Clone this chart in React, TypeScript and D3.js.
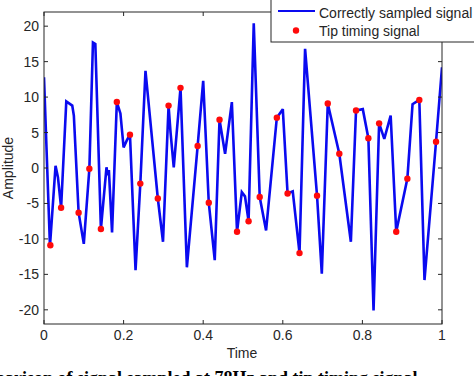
import React from "react";
import * as d3 from "d3";

const lineT = [0.0, 0.015, 0.029, 0.035, 0.043, 0.056, 0.071, 0.075, 0.087, 0.1, 0.114, 0.123, 0.129, 0.143, 0.157, 0.16, 0.163, 0.171, 0.183, 0.192, 0.2, 0.208, 0.216, 0.23, 0.242, 0.255, 0.286, 0.299, 0.313, 0.318, 0.326, 0.343, 0.359, 0.386, 0.4, 0.414, 0.429, 0.441, 0.455, 0.472, 0.485, 0.497, 0.505, 0.514, 0.527, 0.542, 0.558, 0.585, 0.6, 0.612, 0.625, 0.642, 0.656, 0.686, 0.698, 0.713, 0.742, 0.771, 0.784, 0.801, 0.815, 0.828, 0.842, 0.855, 0.871, 0.885, 0.913, 0.926, 0.943, 0.956, 0.985, 1.0];
const lineV = [12.8, -11.0, 0.3, -1.3, -5.6, 9.4, 8.8, 7.4, -6.3, -10.7, -0.1, 17.7, 17.5, -8.6, 0.1, -1.0, -0.3, -9.1, 9.3, 7.7, 2.9, 3.9, 4.7, -14.4, -2.2, 13.7, -4.3, -10.4, 8.8, 5.0, 0.1, 11.3, -14.0, 3.1, 12.3, -4.9, -13.0, 6.8, 2.0, 9.3, -9.0, -3.4, -4.0, -7.5, 20.4, -4.1, -8.8, 7.1, 8.3, -3.6, -3.3, -12.0, 16.8, -3.9, -14.9, 9.1, 2.0, -10.4, 8.1, 8.3, 4.2, -20.1, 6.3, 4.1, 7.4, -9.0, -1.5, 9.0, 9.6, -15.8, 3.7, 14.2];

const tipT = [0.016, 0.043, 0.087, 0.114, 0.143, 0.183, 0.216, 0.242, 0.286, 0.313, 0.343, 0.386, 0.414, 0.441, 0.485, 0.514, 0.542, 0.585, 0.612, 0.642, 0.686, 0.713, 0.742, 0.784, 0.815, 0.842, 0.885, 0.913, 0.943, 0.985];
const tipV = [-10.9, -5.6, -6.3, -0.1, -8.6, 9.3, 4.7, -2.2, -4.3, 8.8, 11.3, 3.1, -4.9, 6.8, -9.0, -7.5, -4.1, 7.1, -3.6, -12.0, -3.9, 9.1, 2.0, 8.1, 4.2, 6.3, -9.0, -1.5, 9.6, 3.7];

const xTicks = [0, 0.2, 0.4, 0.6, 0.8, 1];
const xTickLabels = ["0", "0.2", "0.4", "0.6", "0.8", "1"];
const yTicks = [-20, -15, -10, -5, 0, 5, 10, 15, 20];

const legendLabels = ["Correctly sampled signal", "Tip timing signal"];
const caption = "Comparison of signal sampled at 78Hz and tip timing signal";

export default function App() {
  const W = 474, H = 376;
  const L = 44, R = 442, T = 12, B = 324;
  const x = d3.scaleLinear().domain([0, 1]).range([L, R]);
  const y = d3.scaleLinear().domain([-22, 22]).range([B, T]);
  const pts: [number, number][] = lineT.map((t, i) => [t, lineV[i]]);
  const path = d3.line<[number, number]>().x(d => x(d[0])).y(d => y(d[1]))(pts) || "";
  const font = "'Liberation Sans', Arial, sans-serif";
  const axisCol = "#262626";
  const blue = "#0a0af0";
  const red = "#ff0a0a";
  return (
    <svg width={W} height={H} style={{ position: "absolute", left: 0, top: 0, background: "#fff" }} fontFamily={font}>
      <rect x={0} y={0} width={W} height={H} fill="#fff" />
      <defs>
        <clipPath id="plotclip"><rect x={L} y={T} width={R - L} height={B - T} /></clipPath>
      </defs>
      <path d={path} fill="none" stroke={blue} strokeWidth={2.6} strokeLinejoin="miter" strokeMiterlimit={3} clipPath="url(#plotclip)" />
      {tipT.map((t, i) => (
        <circle key={i} cx={x(t)} cy={y(tipV[i])} r={3.2} fill={red} />
      ))}
      <rect x={L} y={T} width={R - L} height={B - T} fill="none" stroke={axisCol} strokeWidth={1} />
      {xTicks.map((t, i) => (
        <g key={"xt" + i}>
          <line x1={x(t)} x2={x(t)} y1={B} y2={B - 4} stroke={axisCol} />
          <line x1={x(t)} x2={x(t)} y1={T} y2={T + 4} stroke={axisCol} />
          <text x={x(t)} y={340} textAnchor="middle" fontSize={14} fill={axisCol}>{xTickLabels[i]}</text>
        </g>
      ))}
      {yTicks.map((v, i) => (
        <g key={"yt" + i}>
          <line x1={L} x2={L + 4} y1={y(v)} y2={y(v)} stroke={axisCol} />
          <line x1={R} x2={R - 4} y1={y(v)} y2={y(v)} stroke={axisCol} />
          <text x={39} y={y(v) + 5} textAnchor="end" fontSize={14} fill={axisCol}>{v}</text>
        </g>
      ))}
      <text x={242} y={358} textAnchor="middle" fontSize={14} fill={axisCol}>Time</text>
      <text transform={`translate(13,168) rotate(-90)`} textAnchor="middle" fontSize={14} fill={axisCol}>Amplitude</text>
      <rect x={271} y={-5} width={215} height={47} fill="#fff" stroke={axisCol} strokeWidth={1} />
      <line x1={278} x2={315} y1={11} y2={11} stroke={blue} strokeWidth={2} />
      <text x={319} y={18} fontSize={14} fill={axisCol}>{legendLabels[0]}</text>
      <circle cx={296} cy={30.5} r={3.2} fill={red} />
      <text x={319} y={36} fontSize={14} fill={axisCol}>{legendLabels[1]}</text>
      <text x={-42} y={384} fontSize={18} fontWeight="bold" fontFamily="'Liberation Serif', 'Times New Roman', serif" fill="#000">{caption}</text>
    </svg>
  );
}
